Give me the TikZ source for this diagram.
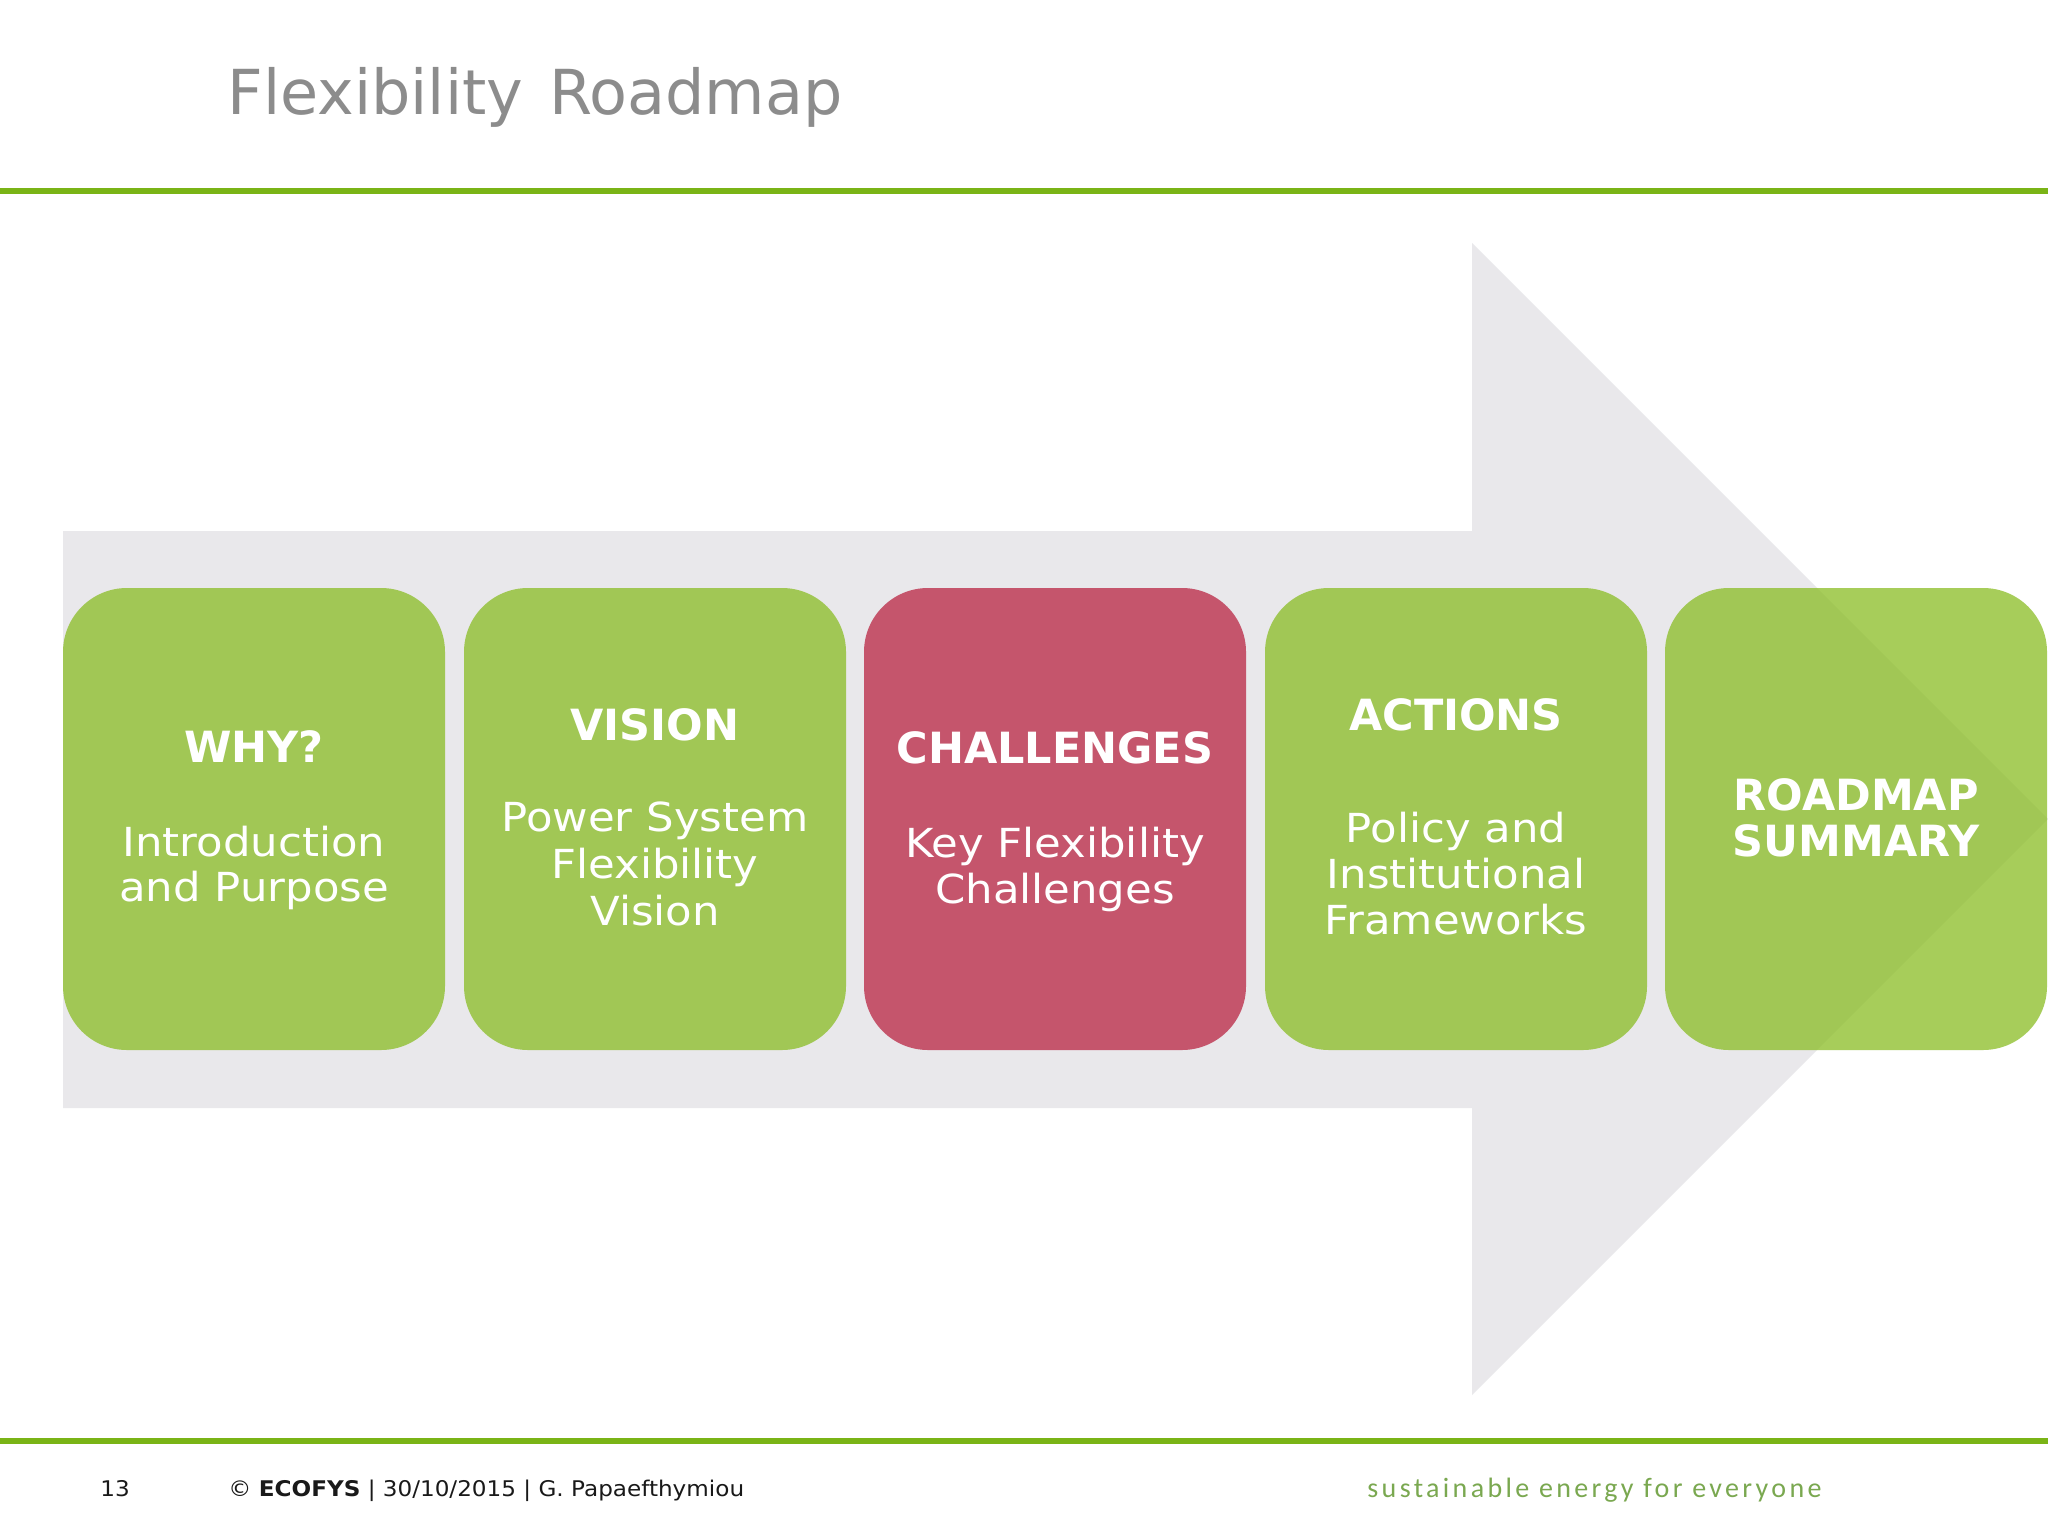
\documentclass[tikz,border=0pt]{standalone}
\usepackage{fontspec}
\setmainfont{DejaVu Sans}
\newfontfamily\widefont[FakeStretch=1.085]{DejaVu Sans}
\newfontfamily\footfont[FakeStretch=1.07]{DejaVu Sans}
\newfontfamily\tagfont[LetterSpace=12]{Carlito}
\definecolor{arrowgray}{RGB}{233,232,235}
\definecolor{boxgreen}{RGB}{138,189,36}
\definecolor{boxred}{RGB}{185,37,66}
\definecolor{linegreen}{RGB}{122,180,22}
\definecolor{titlegray}{RGB}{140,140,140}
\definecolor{footblack}{RGB}{25,25,25}
\definecolor{taggreen}{RGB}{122,168,80}
\begin{document}
\begin{tikzpicture}[x=0.5pt,y=-0.5pt,
  stepbox/.style={rounded corners=32pt, minimum width=191pt, minimum height=231pt, inner sep=0pt, fill opacity=0.75},
  head/.style={text=white, font=\fontsize{21.5pt}{23pt}\selectfont\bfseries, inner sep=0pt, anchor=base},
  bodytxt/.style={text=white, font=\widefont\fontsize{20pt}{23pt}\selectfont, inner sep=0pt, anchor=base},
  rule/.style={draw=linegreen, line width=3pt}]
\useasboundingbox (0,0) rectangle (2048,1536);
\fill[white] (0,0) rectangle (2048,1536);
% title and rules
\node[anchor=base west, inner sep=0pt, font=\fontsize{31pt}{34pt}\selectfont, text=titlegray] (title) at (227,114) {Flexibility\hspace{0.1em} Roadmap};
\coordinate (r1a) at (0,191); \coordinate (r1b) at (2048,191);
\coordinate (r2a) at (0,1441); \coordinate (r2b) at (2048,1441);
\draw[rule] (r1a) -- (r1b);
\draw[rule] (r2a) -- (r2b);
% big arrow
\fill[arrowgray] (63,531) -- (1472,531) -- (1472,243) -- (2048,819) -- (1472,1395) -- (1472,1108) -- (63,1108) -- cycle;
% boxes
\node[stepbox, fill=boxgreen] (b1) at (254,819) {};
\node[stepbox, fill=boxgreen] (b2) at (655,819) {};
\node[stepbox, fill=boxred]   (b3) at (1055,819) {};
\node[stepbox, fill=boxgreen] (b4) at (1456,819) {};
\node[stepbox, fill=boxgreen] (b5) at (1856,819) {};
% box 1
\node[head] (t1h) at (254,762) {WHY?};
\node[bodytxt] (t1a) at (254,856) {Introduction};
\node[bodytxt] (t1b) at (254,901) {and Purpose};
% box 2
\node[head] (t2h) at (655,740) {VISION};
\node[bodytxt] (t2a) at (655,831) {Power System};
\node[bodytxt] (t2b) at (655,878) {Flexibility};
\node[bodytxt] (t2c) at (655,925) {Vision};
% box 3
\node[head] (t3h) at (1055,763) {CHALLENGES};
\node[bodytxt] (t3a) at (1055,857) {Key Flexibility};
\node[bodytxt] (t3b) at (1055,903) {Challenges};
% box 4
\node[head] (t4h) at (1456,730) {ACTIONS};
\node[bodytxt] (t4a) at (1456,842) {Policy and};
\node[bodytxt] (t4b) at (1456,888) {Institutional};
\node[bodytxt] (t4c) at (1456,934) {Frameworks};
% box 5
\node[head] (t5a) at (1856,810) {ROADMAP};
\node[head] (t5b) at (1856,856) {SUMMARY};
% footer
\node[anchor=base west, inner sep=0pt, font=\footfont\fontsize{10.8pt}{12pt}\selectfont, text=footblack] (page) at (100,1496) {13};
\node[anchor=base west, inner sep=0pt, font=\footfont\fontsize{10.8pt}{12pt}\selectfont, text=footblack] (foot) at (228,1496) {© \textbf{ECOFYS} | 30/10/2015 | G. Papaefthymiou};
\node[anchor=base west, inner sep=0pt, font=\tagfont\fontsize{14pt}{16pt}\selectfont, text=taggreen] (tag) at (1367,1497) {sustainable energy for everyone};
\end{tikzpicture}
\end{document}
